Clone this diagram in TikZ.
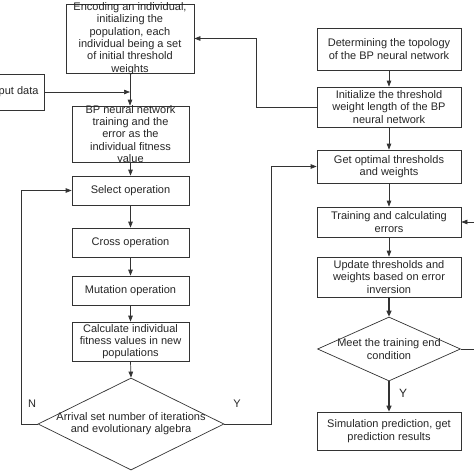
\documentclass[tikz,border=0pt]{standalone}
\usepackage{fontspec}
\setmainfont{Liberation Sans}
\usetikzlibrary{arrows.meta,shapes.geometric}
\begin{document}
\begin{tikzpicture}[x=1pt,y=-1pt,line width=0.7pt,
  txt/.style={font=\fontsize{11}{12.3}\selectfont, align=center, inner sep=0pt, text=black!85},
  box/.style={draw=black!80, inner sep=0pt, fill=white},
  dia/.style={draw=black!80, diamond, inner sep=0pt, fill=white},
  arr/.style={draw=black!80, -{Triangle[length=6pt,width=4.5pt]}},
  thickarr/.style={draw=black!80, line width=1.3pt,-{Triangle[length=6pt,width=5pt]}}]
\useasboundingbox (0,0) rectangle (474,474);
\clip (0,0) rectangle (474,474);
\fill[white] (0,0) rectangle (474,474);
% left column
\node[box, minimum width=128pt, minimum height=69pt, label={[txt]center:{Encoding an individual,\\initializing the\\population, each\\individual being a set\\of initial threshold\\weights}}] (enc) at (130,38.5) {};
\node[box, minimum width=60pt, minimum height=36pt, label={[txt]center:Input data}] (inp) at (14,92) {};
\node[box, minimum width=117pt, minimum height=56pt, label={[txt]center:{BP neural network\\training and the\\error as the\\individual fitness\\value}}] (bp) at (130.5,134) {};
\node[box, minimum width=117pt, minimum height=29pt, label={[txt]center:Select operation}] (sel) at (130.5,190.5) {};
\node[box, minimum width=117pt, minimum height=29pt, label={[txt]center:Cross operation}] (cro) at (130.5,242.5) {};
\node[box, minimum width=117pt, minimum height=29pt, label={[txt]center:Mutation operation}] (mut) at (130.5,290.5) {};
\node[box, minimum width=117pt, minimum height=39pt, label={[txt]center:{Calculate individual\\fitness values in new\\populations}}] (calc) at (130.5,341.5) {};
\node[dia, minimum width=186pt, minimum height=92pt] (d1) at (131,424) {};
\node[txt] (d1t) at (d1.center) {Arrival set number of iterations\\and evolutionary algebra};
% right column
\node[box, minimum width=144pt, minimum height=42pt, label={[txt]center:{Determining the topology\\of the BP neural network}}] (det) at (389,49) {};
\node[box, minimum width=144pt, minimum height=40pt, label={[txt]center:{Initialize the threshold\\weight length of the BP\\neural network}}] (init) at (389,107) {};
\node[box, minimum width=144pt, minimum height=33pt, label={[txt]center:{Get optimal thresholds\\and weights}}] (opt) at (389,166.5) {};
\node[box, minimum width=144pt, minimum height=30pt, label={[txt]center:{Training and calculating\\errors}}] (train) at (389,222) {};
\node[box, minimum width=144pt, minimum height=40pt, label={[txt]center:{Update thresholds and\\weights based on error\\inversion}}] (upd) at (389,277) {};
\node[dia, minimum width=143pt, minimum height=64pt] (d2) at (389,349) {};
\node[txt] (d2t) at (d2.center) {Meet the training end\\condition};
\node[box, minimum width=144pt, minimum height=38pt, label={[txt]center:{Simulation prediction, get\\prediction results}}] (sim) at (389,431) {};
% labels
\node[txt] (lN) at (32,404) {N};
\node[txt] (lY1) at (237,404) {Y};
\node[txt, font=\fontsize{12}{13}\selectfont] (lY2) at (403,393) {Y};
% coordinates
\coordinate (nl) at (21,424);
\coordinate (yr) at (271,424);
\coordinate (il) at (256,107);
\coordinate (rl) at (490,349);
% connectors
\draw[arr] (enc.south) -- (enc.south |- bp.north);
\draw[arr] (inp.east) -- (inp.east -| enc.south);
\draw[arr] (bp.south) -- (sel.north);
\draw[arr] (sel.south) -- (cro.north);
\draw[arr] (cro.south) -- (mut.north);
\draw[arr] (mut.south) -- (calc.north);
\draw[arr] (calc.south) -- (d1.north);
\draw[arr] (d1.west) -- (nl) |- (sel.west);
\draw[arr] (d1.east) -- (yr) |- (opt.west);
\draw[arr] (det.south) -- (init.north);
\draw[arr] (init.west) -- (il) |- (enc.east);
\draw[arr] (init.south) -- (opt.north);
\draw[arr] (opt.south) -- (train.north);
\draw[arr] (train.south) -- (upd.north);
\draw[thickarr] (upd.south) -- (d2.north);
\draw[thickarr] (d2.south) -- (sim.north);
\draw[arr] (d2.east) -- (rl) |- (train.east);
\end{tikzpicture}
\end{document}
